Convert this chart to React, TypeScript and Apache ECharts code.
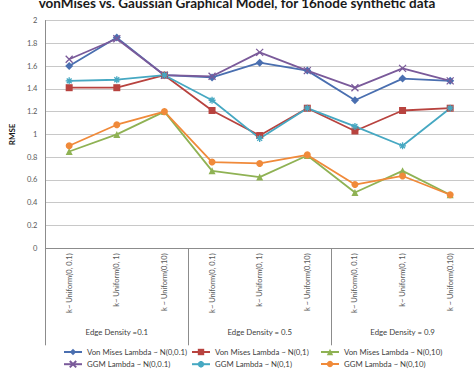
import React, { useEffect, useRef } from "react";
import * as echarts from "echarts";

const categories = [
  "k~ Uniform(0, 0.1)", "k~ Uniform(0, 1)", "k ~ Uniform(0,10)",
  "k~ Uniform(0, 0.1)", "k~ Uniform(0, 1)", "k ~ Uniform(0,10)",
  "k~ Uniform(0, 0.1)", "k~ Uniform(0, 1)", "k ~ Uniform(0,10)",
];
const groups = ["Edge Density =0.1", "Edge Density = 0.5", "Edge Density = 0.9"];
const yTicks = [0, 0.2, 0.4, 0.6, 0.8, 1, 1.2, 1.4, 1.6, 1.8, 2];

const vmN01 = [1.6, 1.85, 1.52, 1.5, 1.63, 1.56, 1.3, 1.49, 1.47];
const vmN1 = [1.41, 1.41, 1.52, 1.21, 0.99, 1.23, 1.03, 1.21, 1.23];
const vmN10 = [0.85, 1.0, 1.2, 0.68, 0.625, 0.815, 0.49, 0.68, 0.47];
const ggmN01 = [1.66, 1.84, 1.52, 1.51, 1.72, 1.56, 1.41, 1.58, 1.47];
const ggmN1 = [1.47, 1.48, 1.52, 1.3, 0.965, 1.23, 1.07, 0.9, 1.23];
const ggmN10 = [0.9, 1.085, 1.2, 0.757, 0.745, 0.82, 0.56, 0.635, 0.47];

const names = [
  "Von Mises Lambda ~ N(0,0.1)",
  "Von Mises Lambda ~ N(0,1)",
  "Von Mises Lambda ~ N(0,10)",
  "GGM Lambda ~ N(0,0.1)",
  "GGM Lambda ~ N(0,1)",
  "GGM Lambda ~ N(0,10)",
];

const X_PATH = "path://M0,0L10,10M10,0L0,10";
const STAR_PATH = "path://M5,0L5,10M0,5L10,5M1.5,1.5L8.5,8.5M8.5,1.5L1.5,8.5";

export default function App() {
  const ref = useRef<HTMLDivElement>(null);
  useEffect(() => {
    if (!ref.current) return;
    const chart = echarts.init(ref.current, undefined, { renderer: "svg" });
    const font = "Lato, 'Liberation Sans', sans-serif";
    const mk = (name: string, data: number[], color: string, symbol: string, size: number, stroke = false) => ({
      name,
      type: "line",
      data,
      symbol,
      symbolSize: size,
      lineStyle: { color, width: 1.8 },
      itemStyle: stroke ? { color, borderColor: color, borderWidth: 1.3 } : { color },
    });
    const cols = [63, 191, 320];
    const rows = [348, 360];
    const legends = names.map((n, i) => ({
      left: cols[i % 3],
      top: rows[Math.floor(i / 3)],
      padding: 0,
      itemWidth: 18,
      itemHeight: 8,
      data: [n],
      textStyle: { fontSize: 7.8, color: "#404040", fontFamily: font },
      selectedMode: false,
    }));
    chart.setOption({
      animation: false,
      title: {
        text: "vonMises vs. Gaussian Graphical Model, for 16node synthetic data",
        left: "center",
        top: -9,
        textStyle: { fontSize: 13.5, fontWeight: "bold", color: "#1a1a1a", fontFamily: font },
      },
      grid: { left: 30, right: 0, top: 20.5, bottom: 122.7 },
      legend: legends,
      xAxis: [
        {
          type: "category",
          data: categories,
          axisLine: { lineStyle: { color: "#8c8c8c" } },
          axisTick: { show: false },
          axisLabel: { rotate: 90, fontSize: 7.5, color: "#595959", margin: 5, fontFamily: font },
        },
        {
          type: "category",
          data: groups,
          position: "bottom",
          axisLine: { show: false },
          axisTick: { show: true, length: 97, lineStyle: { color: "#8c8c8c" } },
          axisLabel: { fontSize: 7.8, color: "#404040", margin: 80, fontFamily: font },
        },
      ],
      yAxis: {
        type: "value",
        min: yTicks[0],
        max: yTicks[yTicks.length - 1],
        interval: 0.2,
        name: "RMSE",
        nameLocation: "middle",
        nameGap: 18,
        nameTextStyle: { fontSize: 8, fontWeight: "bold", color: "#1a1a1a", fontFamily: font },
        axisLine: { show: true, lineStyle: { color: "#8c8c8c" } },
        axisTick: { show: false },
        axisLabel: { fontSize: 7.5, color: "#595959", margin: 8, fontFamily: font, formatter: (v: number) => String(Math.round(v * 10) / 10) },
        splitLine: { lineStyle: { color: "#c8c8c8", width: 1 } },
      },
      series: [
        mk(names[0], vmN01, "#4a6fb0", "diamond", 8),
        mk(names[1], vmN1, "#b8433f", "rect", 7),
        mk(names[2], vmN10, "#8fb254", "triangle", 7),
        mk(names[3], ggmN01, "#7a5a9a", X_PATH, 7, true),
        mk(names[4], ggmN1, "#46a8c2", STAR_PATH, 7, true),
        mk(names[5], ggmN10, "#f08a3a", "circle", 7),
      ],
    });
    return () => chart.dispose();
  }, []);
  return <div ref={ref} style={{ width: 474, height: 371, position: "absolute", left: 0, top: 0 }} />;
}
